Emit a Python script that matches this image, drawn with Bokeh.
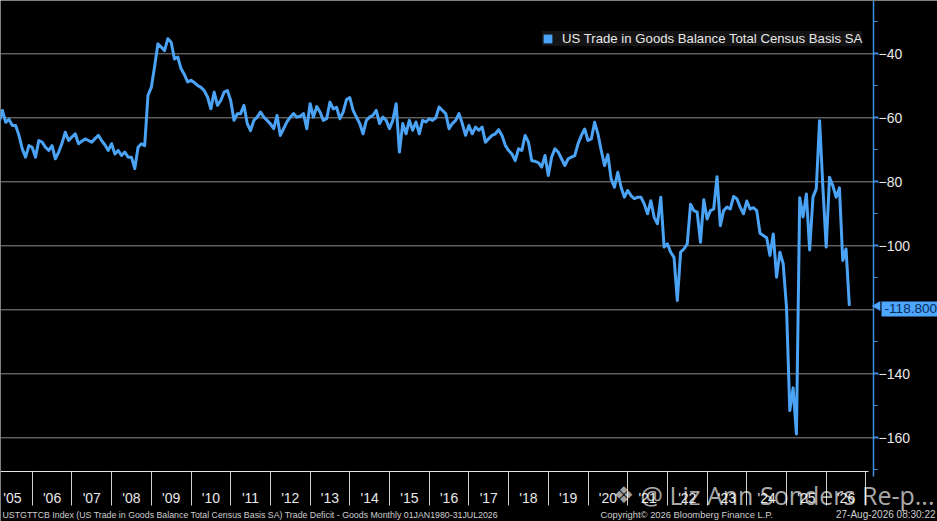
import math
from bokeh.plotting import figure
from bokeh.models import Range1d, FixedTicker, Label, Legend, LegendItem, LinearAxis
from bokeh.embed import file_html
from bokeh.resources import INLINE

# ---------------- data ----------------
series_name = "US Trade in Goods Balance Total Census Basis SA"
first_year, first_month = 2005, 2          # monthly, month-end dated
trade_balance = [
    -61.5, -57.7, -61.4, -60.5, -62.4, -62.4, -65.5, -69.7, -72.3, -68.7, -69.2,          # 2005 (Feb-Dec)
    -72.3, -67.1, -67.6, -69.2, -70.2, -68.7, -72.8, -70.7, -68.0, -64.5, -67.1, -66.0,  # 2006
    -65.0, -68.1, -67.3, -66.6, -67.1, -67.6, -66.5, -65.5, -67.1, -68.5, -70.2, -68.1,  # 2007
    -71.3, -70.2, -71.8, -70.7, -72.3, -72.3, -75.9, -69.2, -68.1, -68.7, -53.0, -50.5,  # 2008
    -44.0, -36.9, -37.9, -39.0, -35.3, -36.4, -41.6, -41.0, -44.7, -46.5, -48.8, -48.3,  # 2009
    -49.0, -49.9, -50.5, -51.5, -53.5, -57.2, -52.0, -56.1, -54.6, -52.0, -51.5, -54.6,  # 2010
    -60.8, -58.7, -58.7, -56.1, -61.8, -64.0, -60.8, -59.8, -58.2, -59.8, -60.8, -61.9,  # 2011
    -63.4, -59.3, -65.5, -63.4, -61.3, -59.8, -58.7, -59.8, -59.5, -58.7, -63.4, -55.6,  # 2012
    -59.8, -56.5, -58.2, -60.8, -60.3, -55.1, -57.2, -56.7, -60.3, -58.2, -54.3, -53.7,  # 2013
    -57.7, -59.8, -61.8, -65.0, -60.8, -59.8, -59.2, -57.7, -61.8, -59.8, -60.8, -63.4,  # 2014
    -60.8, -55.6, -70.7, -61.8, -65.0, -60.8, -63.9, -61.3, -65.0, -60.8, -61.3, -60.3,  # 2015
    -60.8, -60.0, -56.6, -57.7, -58.7, -63.4, -61.8, -60.8, -58.7, -61.8, -65.5, -62.4,  # 2016
    -65.0, -62.9, -63.9, -62.9, -67.6, -66.5, -65.5, -65.0, -63.7, -65.5, -68.6, -70.2,  # 2017
    -71.3, -73.4, -69.7, -70.2, -65.5, -67.6, -73.4, -73.6, -74.0, -75.4, -71.8, -78.0,  # 2018
    -72.3, -69.7, -70.7, -72.8, -74.9, -72.8, -72.3, -71.8, -68.1, -65.5, -63.5, -67.1,  # 2019
    -66.6, -61.4, -65.0, -70.2, -74.9, -71.5, -79.1, -81.7, -77.0, -81.7, -84.8, -82.7,  # 2020
    -84.3, -85.3, -84.8, -84.8, -86.9, -90.0, -85.9, -91.1, -93.1, -84.8, -100.4, -99.4, # 2021
    -102.0, -103.6, -117.1, -102.0, -101.0, -99.4, -87.0, -89.0, -89.5, -98.9, -85.6, -91.6,  # 2022
    -89.0, -88.5, -78.4, -93.7, -89.0, -87.9, -88.5, -84.6, -85.3, -87.9, -90.0, -86.0,  # 2023
    -88.5, -88.1, -89.0, -96.1, -96.8, -97.5, -103.0, -96.3, -109.8, -102.0, -105.6, -119.2,  # 2024
    -151.5, -144.4, -158.8, -85.0, -91.0, -83.8, -101.3, -84.8, -82.2, -60.9, -81.7, -100.4,  # 2025
    -78.6, -81.2, -84.8, -81.9, -104.6, -101.0, -118.8,                                  # 2026 (Jan-Jul)
]
year_ticks = list(range(2005, 2027))
year_labels = ["'%02d" % (y % 100) for y in year_ticks]
y_ticks = [-40, -60, -80, -100, -120, -140, -160]
y_minor = [-30, -50, -70, -90, -110, -130, -150, -170]
last_value_text = "-118.800"
footer_left = ("USTGTTCB Index (US Trade in Goods Balance Total Census Basis SA) "
               "Trade Deficit - Goods Monthly 01JAN1980-31JUL2026")
footer_mid = "Copyright\u00a9 2026 Bloomberg Finance L.P."
footer_right = "27-Aug-2026 08:30:22"
watermark = "@ Liz Ann Sonders Re-p..."

# month-end dates as fractional years
dates = []
yy, mm = first_year, first_month
for _ in trade_balance:
    dates.append(yy + mm / 12.0)
    mm += 1
    if mm > 12:
        mm, yy = 1, yy + 1

# ---------------- layout ----------------
W, H = 937, 521

def px2x(px):   # canvas pixel column -> data x (years)
    return 2006 + (px - 31.7) / 39.7

def px2y(py):   # canvas pixel row -> data y
    return -40 - (py - 53.3) / 3.2

AXIS_X = px2x(873)      # right value axis
AXIS_Y = px2y(471)      # bottom time axis
LINE = "#4ba3f5"
AXIS_BLUE = "#3f8fe0"
FLAG = "#4da6ff"
TXT = "#e8e8e8"
FONT = "Liberation Sans"

p = figure(width=W, height=H,
           x_range=Range1d(px2x(0), px2x(W)), y_range=Range1d(px2y(H), px2y(0)),
           output_backend="svg", toolbar_location=None,
           x_axis_location=None, y_axis_location=None,
           background_fill_color="black", border_fill_color="black",
           outline_line_color=None, min_border=0)
p.xgrid.visible = False
p.ygrid.visible = False

# horizontal grid lines at the value ticks, ending at the value axis
p.segment(x0=[px2x(0)] * len(y_ticks), x1=[AXIS_X] * len(y_ticks),
          y0=y_ticks, y1=y_ticks, line_color="#8c8c8c", line_width=1)

# value axis (right); the tick hidden behind the last-value flag is not labelled
label_ticks = [t for t in y_ticks if abs(t - trade_balance[-1]) > 5]
ya = LinearAxis(fixed_location=AXIS_X, bounds=(px2y(476), px2y(0)),
                ticker=FixedTicker(ticks=label_ticks, minor_ticks=y_minor),
                axis_line_color=AXIS_BLUE, axis_line_width=1.5,
                major_tick_line_color=AXIS_BLUE, major_tick_line_width=2,
                major_tick_out=5, major_tick_in=0,
                minor_tick_line_color=AXIS_BLUE, minor_tick_out=4, minor_tick_in=0,
                major_label_text_color=TXT, major_label_text_font=FONT,
                major_label_text_font_size="14px", major_label_standoff=0)
p.add_layout(ya, "right")

# time axis: year labels centred in each year, separators (minor ticks) at year boundaries
xa = LinearAxis(fixed_location=AXIS_Y, bounds=(px2x(0), px2x(868)),
                ticker=FixedTicker(ticks=[y + 0.5 for y in year_ticks],
                                   minor_ticks=[float(y) for y in range(2006, 2028)]),
                major_label_overrides={y + 0.5: lab for y, lab in zip(year_ticks, year_labels)},
                axis_line_color="#e6e6e6", axis_line_width=1,
                major_tick_out=0, major_tick_in=0,
                minor_tick_line_color="#d0d0d0", minor_tick_out=34, minor_tick_in=0,
                major_label_text_color=TXT, major_label_text_font=FONT,
                major_label_text_font_size="14px", major_label_standoff=-16)
p.add_layout(xa, "below")

# the series
p.line(dates, trade_balance, line_width=3, line_color=LINE, line_join="round")

# legend with a square swatch (zero-size quad at the last point only supplies the swatch)
sq = p.quad(left=dates[-1:], right=dates[-1:], top=trade_balance[-1:],
            bottom=trade_balance[-1:], fill_color=LINE, line_color=None)
legend = Legend(items=[LegendItem(label=series_name, renderers=[sq])],
                location=(542, H - 46),
                background_fill_color="#141414", background_fill_alpha=1,
                border_line_color=None, padding=6, margin=0,
                glyph_width=11, glyph_height=11, label_standoff=9, label_height=12,
                label_text_color=TXT, label_text_font=FONT,
                label_text_font_size="13.2px")
p.add_layout(legend)

# last value flag on the value axis
p.add_layout(Label(x=px2x(881), y=trade_balance[-1], y_offset=-3, text=last_value_text,
                   text_align="left", text_baseline="middle",
                   text_color="#0a2c55", text_font=FONT, text_font_size="13.6px",
                   background_fill_color=FLAG, padding=3))
p.scatter(x=[px2x(877)], y=trade_balance[-1:], marker="triangle", angle=math.pi / 2,
          size=10, fill_color=FLAG, line_color=None)

# footer
for txt, px, align, fs in [(footer_left, 2, "left", "8.8px"),
                           (footer_mid, 600, "left", "9.4px"),
                           (footer_right, 935, "right", "10px")]:
    p.add_layout(Label(x=px2x(px), y=px2y(514), text=txt, text_align=align,
                       text_baseline="middle", text_color="#cfcfcf",
                       text_font=FONT, text_font_size=fs))

# repost watermark
p.add_layout(Label(x=px2x(613), y=px2y(494), text="\u2756", text_align="left",
                   text_baseline="middle", text_color="white", text_alpha=0.65,
                   text_font="DejaVu Sans", text_font_size="23px"))
p.add_layout(Label(x=px2x(640), y=px2y(494), text=watermark, text_align="left",
                   text_baseline="middle", text_color="white", text_alpha=0.68,
                   text_font="Open Sans", text_font_size="25px"))

open("out.html", "w").write(file_html(p, INLINE))
